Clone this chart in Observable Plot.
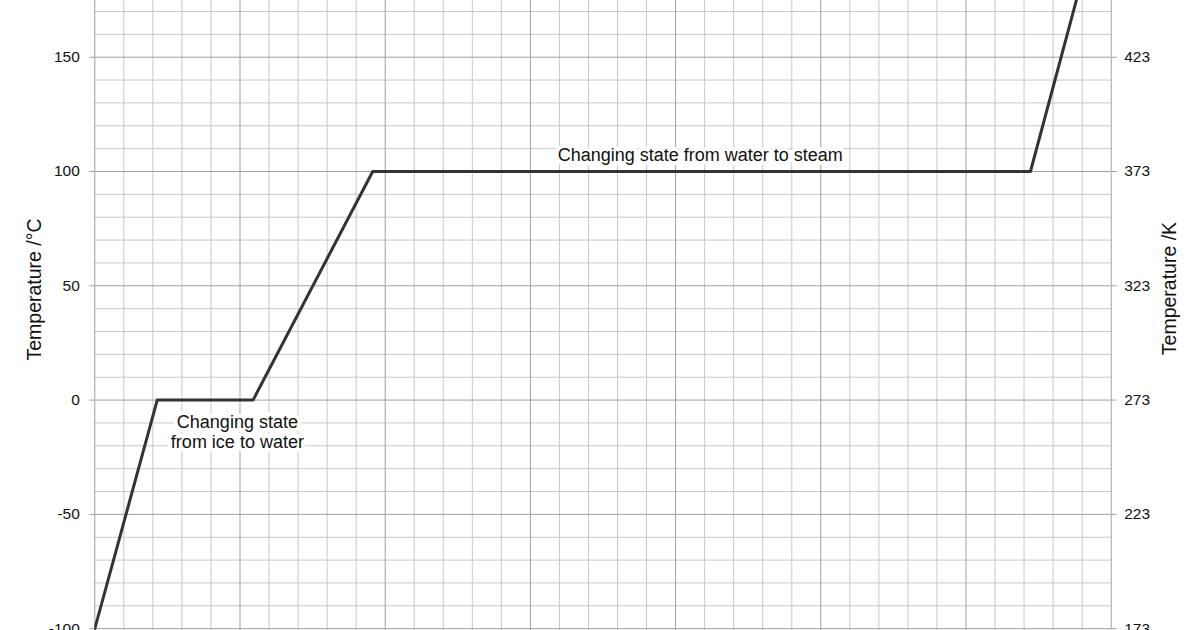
<!DOCTYPE html>
<html><head><meta charset="utf-8">
<script src="https://cdn.jsdelivr.net/npm/d3@7"></script>
<script src="https://cdn.jsdelivr.net/npm/@observablehq/plot@0.6"></script>
<style>html,body{margin:0;padding:0;background:#fff;overflow:hidden}</style>
</head><body><div id="chart"></div>
<script>
// heating curve of water: time in grid units, temperature in °C
const time  = [0, 2.15, 5.45, 9.57, 32.22, 34.33];
const tempC = [-100, 0, 0, 100, 100, 200];

const yMajor = [-100, -50, 0, 50, 100, 150];
const yMinor = [-90, -80, -70, -60, -40, -30, -20, -10, 10, 20, 30, 40, 60, 70, 80, 90, 110, 120, 130, 140, 160, 170];
const xMajor = [0, 5, 10, 15, 20, 25, 30, 35];
const xMinor = [1, 2, 3, 4, 6, 7, 8, 9, 11, 12, 13, 14, 16, 17, 18, 19, 21, 22, 23, 24, 26, 27, 28, 29, 31, 32, 33, 34];

const noteX = [4.91, 20.85];
const noteY = [-13.7, 107.5];
const noteText = ["Changing state\nfrom ice to water", "Changing state from water to steam"];

const axisTitles = ["Temperature /°C", "Temperature /K"];

const curve = time.map((t, i) => ({t, c: tempC[i]}));
const notes = noteText.map((s, i) => ({x: noteX[i], y: noteY[i], s}));

const font = "'Liberation Sans', Arial, sans-serif";
const minorCol = "#c8c8c8", majorCol = "#a0a0a0";

const chart = Plot.plot({
  width: 1200, height: 630,
  marginLeft: 94.3, marginRight: 89.3, marginTop: 0, marginBottom: 0,
  x: {domain: [0, 35], axis: null},
  y: {domain: [-100.8, 174.8], axis: null},
  style: {fontFamily: font, fontSize: "15.5px", color: "#111", background: "#fff"},
  marks: [
    Plot.ruleY(yMinor, {stroke: minorCol}),
    Plot.ruleX(xMinor, {stroke: minorCol}),
    Plot.ruleY(yMajor, {stroke: majorCol}),
    Plot.ruleX(xMajor, {stroke: majorCol}),
    Plot.axisY({anchor: "left", ticks: yMajor, tickSize: 5, tickPadding: 10, stroke: majorCol, fill: "#111", fontSize: 15.5, tickFormat: d => String(d), label: null}),
    Plot.axisY({anchor: "right", ticks: yMajor, tickSize: 5, tickPadding: 8, stroke: majorCol, fill: "#111", fontSize: 15.5, tickFormat: d => String(d + 273), label: null}),
    Plot.text([axisTitles[0]], {frameAnchor: "left", y: 48.4, dx: -60.5, rotate: -90, fontSize: 19.5, fill: "#111", textAnchor: "middle", lineAnchor: "middle"}),
    Plot.text([axisTitles[1]], {frameAnchor: "right", y: 48.8, dx: 58.5, rotate: -90, fontSize: 19.5, fill: "#111", textAnchor: "middle", lineAnchor: "middle"}),
    Plot.text(notes, {x: "x", y: "y", text: "s", fontSize: 18, lineHeight: 1.11, fill: "#111", stroke: "#fff", strokeWidth: 8}),
    Plot.line(curve, {x: "t", y: "c", stroke: "#333", strokeWidth: 3, clip: true})
  ]
});
document.getElementById("chart").appendChild(chart);
</script>
</body></html>
